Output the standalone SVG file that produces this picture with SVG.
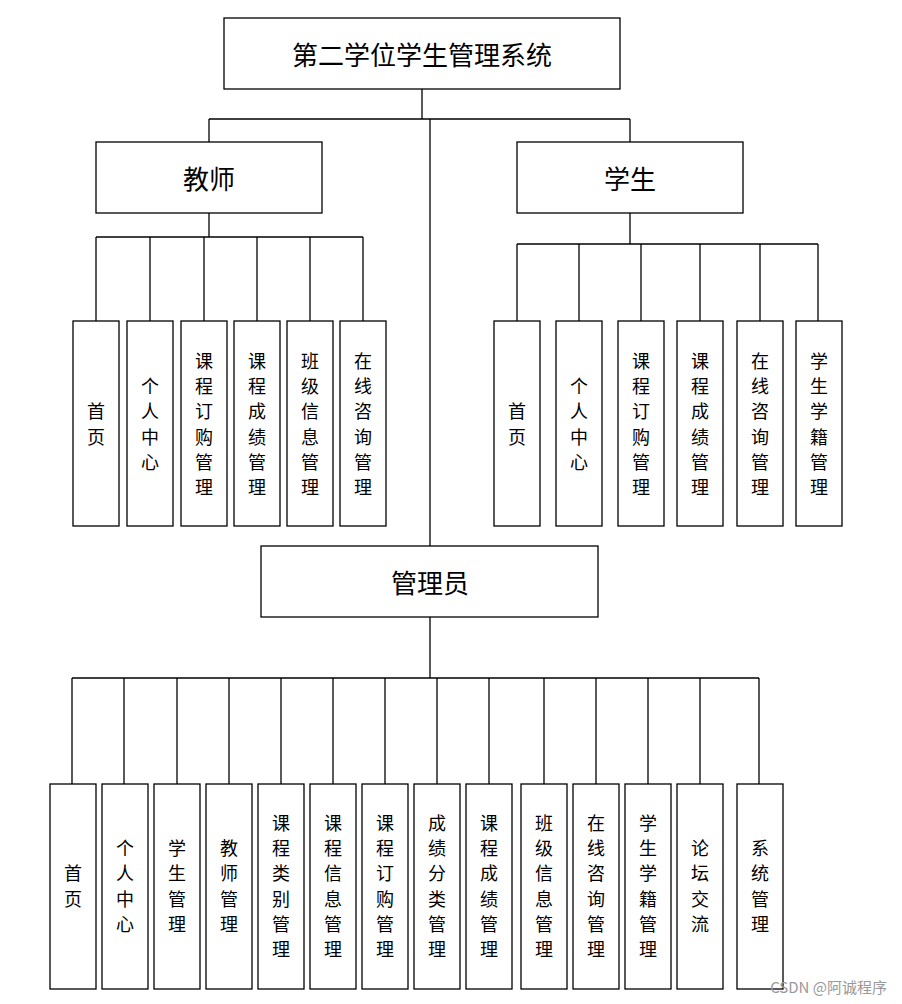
<svg xmlns="http://www.w3.org/2000/svg" width="902" height="1004" viewBox="0 0 902 1004">
<style>
rect{fill:#fff;stroke:#000;stroke-width:1.3}
line{stroke:#000;stroke-width:1.3}
text{font-family:"Noto Sans CJK SC","Noto Sans",sans-serif;fill:#000;text-anchor:middle;dominant-baseline:central}
.b{font-size:26px}.s{font-size:18px}
.w{font-size:15px;fill:#999;text-anchor:end}
</style>
<rect width="902" height="1004" style="fill:#fff;stroke:none"/>
<g id="connectors">
<line x1="422" y1="89" x2="422" y2="119"/><line x1="209" y1="119" x2="630" y2="119"/>
<line x1="209" y1="119" x2="209" y2="142"/><line x1="630" y1="119" x2="630" y2="142"/>
<line x1="430" y1="119" x2="430" y2="546"/>
<line x1="209" y1="213" x2="209" y2="237"/><line x1="96" y1="237" x2="363" y2="237"/>
<line x1="96" y1="237" x2="96" y2="321"/><line x1="150" y1="237" x2="150" y2="321"/><line x1="204" y1="237" x2="204" y2="321"/><line x1="257" y1="237" x2="257" y2="321"/><line x1="310" y1="237" x2="310" y2="321"/><line x1="363" y1="237" x2="363" y2="321"/>
<line x1="630" y1="213" x2="630" y2="244"/><line x1="517" y1="244" x2="818" y2="244"/>
<line x1="517" y1="244" x2="517" y2="321"/><line x1="579" y1="244" x2="579" y2="321"/><line x1="641" y1="244" x2="641" y2="321"/><line x1="700" y1="244" x2="700" y2="321"/><line x1="760" y1="244" x2="760" y2="321"/><line x1="818" y1="244" x2="818" y2="321"/>
<line x1="430" y1="617" x2="430" y2="678"/><line x1="72" y1="678" x2="759" y2="678"/>
<line x1="72" y1="678" x2="72" y2="784"/><line x1="124" y1="678" x2="124" y2="784"/><line x1="177" y1="678" x2="177" y2="784"/><line x1="229" y1="678" x2="229" y2="784"/><line x1="281" y1="678" x2="281" y2="784"/><line x1="333" y1="678" x2="333" y2="784"/><line x1="385" y1="678" x2="385" y2="784"/><line x1="437" y1="678" x2="437" y2="784"/><line x1="489" y1="678" x2="489" y2="784"/><line x1="544" y1="678" x2="544" y2="784"/><line x1="596" y1="678" x2="596" y2="784"/><line x1="648" y1="678" x2="648" y2="784"/><line x1="700" y1="678" x2="700" y2="784"/><line x1="759" y1="678" x2="759" y2="784"/>
</g>
<g id="root"><rect x="224" y="18" width="396" height="71"/><text class="b" x="422" y="53">第二学位学生管理系统</text></g>
<g id="teacher"><rect x="96" y="142" width="226" height="71"/><text class="b" x="209" y="177">教师</text></g>
<g id="student"><rect x="517" y="142" width="226" height="71"/><text class="b" x="630" y="177">学生</text></g>
<g id="admin"><rect x="261" y="546" width="337" height="71"/><text class="b" x="430" y="581">管理员</text></g>
<g id="t1"><rect x="73" y="321" width="46" height="205"/><text class="s" x="96" y="410">首</text><text class="s" x="96" y="436">页</text></g>
<g id="t2"><rect x="127" y="321" width="46" height="205"/><text class="s" x="150" y="385">个</text><text class="s" x="150" y="410">人</text><text class="s" x="150" y="436">中</text><text class="s" x="150" y="461">心</text></g>
<g id="t3"><rect x="181" y="321" width="46" height="205"/><text class="s" x="204" y="360">课</text><text class="s" x="204" y="385">程</text><text class="s" x="204" y="410">订</text><text class="s" x="204" y="436">购</text><text class="s" x="204" y="461">管</text><text class="s" x="204" y="486">理</text></g>
<g id="t4"><rect x="234" y="321" width="46" height="205"/><text class="s" x="257" y="360">课</text><text class="s" x="257" y="385">程</text><text class="s" x="257" y="410">成</text><text class="s" x="257" y="436">绩</text><text class="s" x="257" y="461">管</text><text class="s" x="257" y="486">理</text></g>
<g id="t5"><rect x="287" y="321" width="46" height="205"/><text class="s" x="310" y="360">班</text><text class="s" x="310" y="385">级</text><text class="s" x="310" y="410">信</text><text class="s" x="310" y="436">息</text><text class="s" x="310" y="461">管</text><text class="s" x="310" y="486">理</text></g>
<g id="t6"><rect x="340" y="321" width="46" height="205"/><text class="s" x="363" y="360">在</text><text class="s" x="363" y="385">线</text><text class="s" x="363" y="410">咨</text><text class="s" x="363" y="436">询</text><text class="s" x="363" y="461">管</text><text class="s" x="363" y="486">理</text></g>
<g id="s1"><rect x="494" y="321" width="46" height="205"/><text class="s" x="517" y="410">首</text><text class="s" x="517" y="436">页</text></g>
<g id="s2"><rect x="556" y="321" width="46" height="205"/><text class="s" x="579" y="385">个</text><text class="s" x="579" y="410">人</text><text class="s" x="579" y="436">中</text><text class="s" x="579" y="461">心</text></g>
<g id="s3"><rect x="618" y="321" width="46" height="205"/><text class="s" x="641" y="360">课</text><text class="s" x="641" y="385">程</text><text class="s" x="641" y="410">订</text><text class="s" x="641" y="436">购</text><text class="s" x="641" y="461">管</text><text class="s" x="641" y="486">理</text></g>
<g id="s4"><rect x="677" y="321" width="46" height="205"/><text class="s" x="700" y="360">课</text><text class="s" x="700" y="385">程</text><text class="s" x="700" y="410">成</text><text class="s" x="700" y="436">绩</text><text class="s" x="700" y="461">管</text><text class="s" x="700" y="486">理</text></g>
<g id="s5"><rect x="737" y="321" width="46" height="205"/><text class="s" x="760" y="360">在</text><text class="s" x="760" y="385">线</text><text class="s" x="760" y="410">咨</text><text class="s" x="760" y="436">询</text><text class="s" x="760" y="461">管</text><text class="s" x="760" y="486">理</text></g>
<g id="s6"><rect x="796" y="321" width="46" height="205"/><text class="s" x="819" y="360">学</text><text class="s" x="819" y="385">生</text><text class="s" x="819" y="410">学</text><text class="s" x="819" y="436">籍</text><text class="s" x="819" y="461">管</text><text class="s" x="819" y="486">理</text></g>
<g id="a1"><rect x="50" y="784" width="46" height="205"/><text class="s" x="73" y="872">首</text><text class="s" x="73" y="898">页</text></g>
<g id="a2"><rect x="102" y="784" width="46" height="205"/><text class="s" x="125" y="847">个</text><text class="s" x="125" y="872">人</text><text class="s" x="125" y="898">中</text><text class="s" x="125" y="923">心</text></g>
<g id="a3"><rect x="154" y="784" width="46" height="205"/><text class="s" x="177" y="847">学</text><text class="s" x="177" y="872">生</text><text class="s" x="177" y="898">管</text><text class="s" x="177" y="923">理</text></g>
<g id="a4"><rect x="206" y="784" width="46" height="205"/><text class="s" x="229" y="847">教</text><text class="s" x="229" y="872">师</text><text class="s" x="229" y="898">管</text><text class="s" x="229" y="923">理</text></g>
<g id="a5"><rect x="258" y="784" width="46" height="205"/><text class="s" x="281" y="822">课</text><text class="s" x="281" y="847">程</text><text class="s" x="281" y="872">类</text><text class="s" x="281" y="898">别</text><text class="s" x="281" y="923">管</text><text class="s" x="281" y="948">理</text></g>
<g id="a6"><rect x="310" y="784" width="46" height="205"/><text class="s" x="333" y="822">课</text><text class="s" x="333" y="847">程</text><text class="s" x="333" y="872">信</text><text class="s" x="333" y="898">息</text><text class="s" x="333" y="923">管</text><text class="s" x="333" y="948">理</text></g>
<g id="a7"><rect x="362" y="784" width="46" height="205"/><text class="s" x="385" y="822">课</text><text class="s" x="385" y="847">程</text><text class="s" x="385" y="872">订</text><text class="s" x="385" y="898">购</text><text class="s" x="385" y="923">管</text><text class="s" x="385" y="948">理</text></g>
<g id="a8"><rect x="414" y="784" width="46" height="205"/><text class="s" x="437" y="822">成</text><text class="s" x="437" y="847">绩</text><text class="s" x="437" y="872">分</text><text class="s" x="437" y="898">类</text><text class="s" x="437" y="923">管</text><text class="s" x="437" y="948">理</text></g>
<g id="a9"><rect x="466" y="784" width="46" height="205"/><text class="s" x="489" y="822">课</text><text class="s" x="489" y="847">程</text><text class="s" x="489" y="872">成</text><text class="s" x="489" y="898">绩</text><text class="s" x="489" y="923">管</text><text class="s" x="489" y="948">理</text></g>
<g id="a10"><rect x="521" y="784" width="46" height="205"/><text class="s" x="544" y="822">班</text><text class="s" x="544" y="847">级</text><text class="s" x="544" y="872">信</text><text class="s" x="544" y="898">息</text><text class="s" x="544" y="923">管</text><text class="s" x="544" y="948">理</text></g>
<g id="a11"><rect x="573" y="784" width="46" height="205"/><text class="s" x="596" y="822">在</text><text class="s" x="596" y="847">线</text><text class="s" x="596" y="872">咨</text><text class="s" x="596" y="898">询</text><text class="s" x="596" y="923">管</text><text class="s" x="596" y="948">理</text></g>
<g id="a12"><rect x="625" y="784" width="46" height="205"/><text class="s" x="648" y="822">学</text><text class="s" x="648" y="847">生</text><text class="s" x="648" y="872">学</text><text class="s" x="648" y="898">籍</text><text class="s" x="648" y="923">管</text><text class="s" x="648" y="948">理</text></g>
<g id="a13"><rect x="677" y="784" width="46" height="205"/><text class="s" x="700" y="847">论</text><text class="s" x="700" y="872">坛</text><text class="s" x="700" y="898">交</text><text class="s" x="700" y="923">流</text></g>
<g id="a14"><rect x="737" y="784" width="46" height="205"/><text class="s" x="760" y="847">系</text><text class="s" x="760" y="872">统</text><text class="s" x="760" y="898">管</text><text class="s" x="760" y="923">理</text></g>
<text class="w" x="887" y="986">CSDN @阿诚程序</text>
</svg>
